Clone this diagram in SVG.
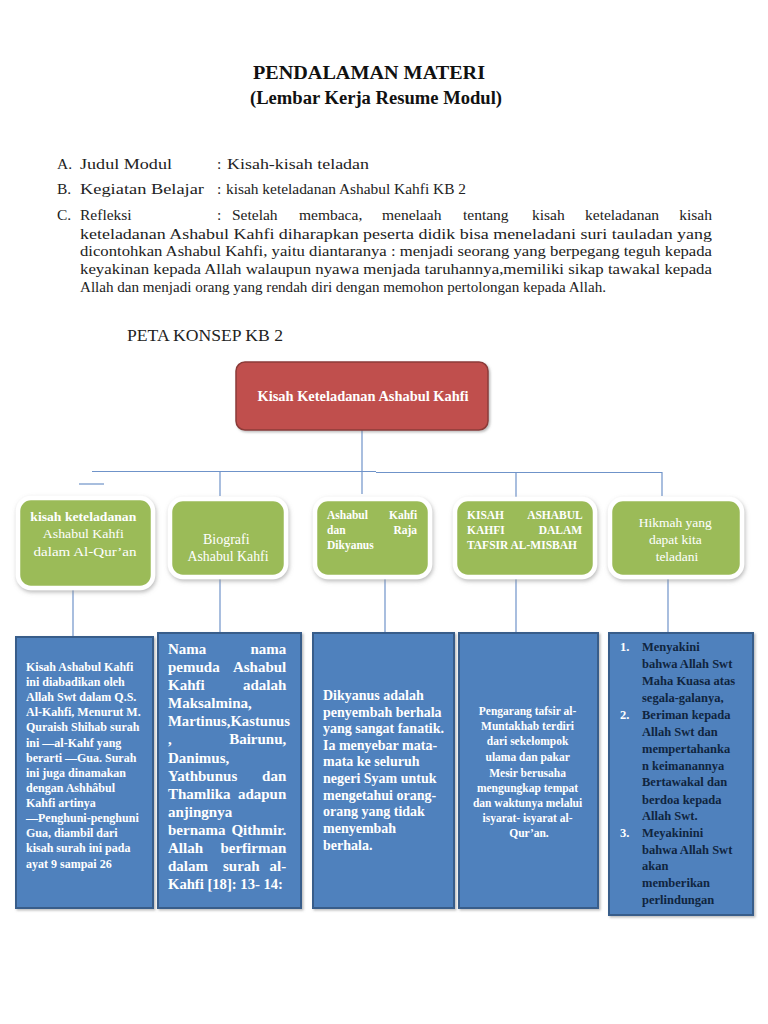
<svg xmlns="http://www.w3.org/2000/svg" width="768" height="1024" viewBox="0 0 768 1024">
<defs>
<filter id="sh" x="-20%" y="-20%" width="140%" height="140%">
<feDropShadow dx="1" dy="2" stdDeviation="2" flood-color="#8a8a8a" flood-opacity="0.6"/>
</filter>
<filter id="sh2" x="-10%" y="-10%" width="120%" height="120%">
<feDropShadow dx="1.5" dy="1.5" stdDeviation="1" flood-color="#777" flood-opacity="0.5"/>
</filter>
<style>
.hd{font-family:"Liberation Serif",serif;font-size:15.5px;fill:#222}
.ttl{font-family:"Liberation Serif",serif;font-size:18px;font-weight:bold;fill:#111}
.grn{fill:#9bbb59;stroke:#fff;stroke-width:4.5}
.blu{fill:#4f81bd;stroke:#385d8a;stroke-width:2}
.wt{font-family:"Liberation Serif",serif;fill:#fff}
.b{font-weight:bold}
.dk{font-family:"Liberation Serif",serif;fill:#10253f;font-weight:bold;font-size:12.5px}
.con{stroke:#6f93c9;stroke-width:1.2;fill:none}
</style>
</defs>
<rect width="768" height="1024" fill="#fff"/>

<g id="header">
<text class="ttl" x="369" y="79" text-anchor="middle" textLength="232" lengthAdjust="spacingAndGlyphs">PENDALAMAN MATERI</text>
<text class="ttl" x="376" y="104" text-anchor="middle" textLength="252" lengthAdjust="spacingAndGlyphs">(Lembar Kerja Resume Modul)</text>
<text class="hd" x="57" y="169">A.</text>
<text class="hd" x="80" y="169" textLength="92" lengthAdjust="spacingAndGlyphs">Judul Modul</text>
<text class="hd" x="217" y="169">:</text>
<text class="hd" x="227" y="169" textLength="142" lengthAdjust="spacingAndGlyphs">Kisah-kisah teladan</text>
<text class="hd" x="57" y="194">B.</text>
<text class="hd" x="80" y="194" textLength="124" lengthAdjust="spacingAndGlyphs">Kegiatan Belajar</text>
<text class="hd" x="217" y="194">:</text>
<text class="hd" x="226" y="194" textLength="240" lengthAdjust="spacingAndGlyphs">kisah keteladanan Ashabul Kahfi KB 2</text>
<text class="hd" x="57" y="220">C.</text>
<text class="hd" x="80" y="220">Refleksi</text>
<text class="hd" x="217" y="220">:</text>
<text class="hd" y="220"><tspan x="232">Setelah</tspan><tspan x="299">membaca,</tspan><tspan x="382">menelaah</tspan><tspan x="463">tentang</tspan><tspan x="532">kisah</tspan><tspan x="585">keteladanan</tspan></text>
<text class="hd" x="712" y="220" text-anchor="end">kisah</text>
<text class="hd" x="80" y="239" textLength="632" lengthAdjust="spacingAndGlyphs">keteladanan Ashabul Kahfi diharapkan peserta didik bisa meneladani suri tauladan yang</text>
<text class="hd" x="80" y="256" textLength="632" lengthAdjust="spacingAndGlyphs">dicontohkan Ashabul Kahfi, yaitu diantaranya : menjadi seorang yang berpegang teguh kepada</text>
<text class="hd" x="80" y="274" textLength="632" lengthAdjust="spacingAndGlyphs">keyakinan kepada Allah walaupun nyawa menjada taruhannya,memiliki sikap tawakal kepada</text>
<text class="hd" x="80" y="292" textLength="526" lengthAdjust="spacingAndGlyphs">Allah dan menjadi orang yang rendah diri dengan memohon pertolongan kepada Allah.</text>
<text class="hd" x="127" y="341" style="font-size:16px" textLength="156" lengthAdjust="spacingAndGlyphs">PETA KONSEP KB 2</text>
</g>

<g id="connectors">
<line class="con" x1="362" y1="430" x2="362" y2="494"/>
<line class="con" x1="92" y1="471.5" x2="376" y2="471.5"/>
<line class="con" x1="376" y1="472.5" x2="662" y2="472.5"/>
<line class="con" x1="79" y1="484" x2="104" y2="484"/>
<line class="con" x1="220" y1="472" x2="220" y2="496"/>
<line class="con" x1="516" y1="472" x2="516" y2="497"/>
<line class="con" x1="662" y1="472" x2="662" y2="496"/>
<line class="con" x1="73" y1="590" x2="73" y2="637"/>
<line class="con" x1="220" y1="579" x2="220" y2="633"/>
<line class="con" x1="385" y1="579" x2="385" y2="633"/>
<line class="con" x1="516" y1="579" x2="516" y2="633"/>
<line class="con" x1="668" y1="579" x2="668" y2="633"/>
</g>

<g id="root">
<rect x="236" y="362" width="252" height="68" rx="9" fill="#c0504d" stroke="#8c3a38" stroke-width="1.5" filter="url(#sh2)"/>
<text class="wt b" x="363" y="401" text-anchor="middle" font-size="14" textLength="211" lengthAdjust="spacingAndGlyphs">Kisah Keteladanan Ashabul Kahfi</text>
</g>

<g id="g1">
<rect class="grn" x="18" y="498" width="135" height="90" rx="13" filter="url(#sh)"/>
<text class="wt" text-anchor="middle" font-size="13.5">
<tspan x="85" y="521" font-weight="bold" textLength="106" lengthAdjust="spacingAndGlyphs">kisah keteladanan</tspan>
<tspan x="85" y="538" textLength="81" lengthAdjust="spacingAndGlyphs">Ashabul Kahfi</tspan>
<tspan x="85" y="556" textLength="103" lengthAdjust="spacingAndGlyphs">dalam Al-Qur’an</tspan>
</text>
</g>

<g id="g2">
<rect class="grn" x="170" y="499" width="116" height="78" rx="13" filter="url(#sh)"/>
<text class="wt" text-anchor="middle" font-size="14">
<tspan x="228" y="544">Biografi</tspan>
<tspan x="228" y="561" textLength="81" lengthAdjust="spacingAndGlyphs">Ashabul Kahfi</tspan>
</text>
</g>

<g id="g3">
<rect class="grn" x="315" y="499" width="115" height="78" rx="13" filter="url(#sh)"/>
<text class="wt b" font-size="11.5">
<tspan x="327" y="519">Ashabul</tspan><tspan x="420" y="519" text-anchor="end">Kahfi</tspan>
<tspan x="327" y="534">dan</tspan><tspan x="420" y="534" text-anchor="end">Raja</tspan>
<tspan x="327" y="549">Dikyanus</tspan>
</text>
</g>

<g id="g4">
<rect class="grn" x="455" y="499" width="140" height="78" rx="13" filter="url(#sh)"/>
<text class="wt b" font-size="11.5">
<tspan x="467" y="519">KISAH</tspan><tspan x="585" y="519" text-anchor="end">ASHABUL</tspan>
<tspan x="467" y="534">KAHFI</tspan><tspan x="585" y="534" text-anchor="end">DALAM</tspan>
<tspan x="467" y="549" textLength="110" lengthAdjust="spacingAndGlyphs">TAFSIR AL-MISBAH</tspan>
</text>
</g>

<g id="g5">
<rect class="grn" x="610" y="499" width="132" height="78" rx="13" filter="url(#sh)"/>
<text class="wt" text-anchor="middle" font-size="13.5">
<tspan x="677" y="527">Hikmah yang</tspan>
<tspan x="677" y="544">dapat kita</tspan>
<tspan x="677" y="561">teladani</tspan>
</text>
</g>

<g id="b1">
<rect class="blu" x="16" y="637" width="137" height="271" filter="url(#sh2)"/>
<text class="wt b" font-size="12">
<tspan x="26" y="671">Kisah Ashabul Kahfi</tspan>
<tspan x="26" y="686">ini diabadikan oleh</tspan>
<tspan x="26" y="701">Allah Swt dalam Q.S.</tspan>
<tspan x="26" y="716">Al-Kahfi, Menurut M.</tspan>
<tspan x="26" y="731">Quraish Shihab surah</tspan>
<tspan x="26" y="747">ini —al-Kahf yang</tspan>
<tspan x="26" y="762">berarti —Gua. Surah</tspan>
<tspan x="26" y="777">ini juga dinamakan</tspan>
<tspan x="26" y="792">dengan Ashhâbul</tspan>
<tspan x="26" y="807">Kahfi artinya</tspan>
<tspan x="26" y="822">—Penghuni-penghuni</tspan>
<tspan x="26" y="837">Gua, diambil dari</tspan>
<tspan x="26" y="852">kisah surah ini pada</tspan>
<tspan x="26" y="868">ayat 9 sampai 26</tspan>
</text>
</g>

<g id="b2">
<rect class="blu" x="158" y="633" width="143" height="275" filter="url(#sh2)"/>
<text class="wt b" font-size="15">
<tspan x="168" y="654">Nama</tspan><tspan x="290" y="654" text-anchor="end">nama</tspan>
<tspan x="168" y="672">pemuda</tspan><tspan x="290" y="672" text-anchor="end">Ashabul</tspan>
<tspan x="168" y="690">Kahfi</tspan><tspan x="290" y="690" text-anchor="end">adalah</tspan>
<tspan x="168" y="708">Maksalmina,</tspan>
<tspan x="168" y="726" textLength="122" lengthAdjust="spacingAndGlyphs">Martinus,Kastunus</tspan>
<tspan x="168" y="744">,</tspan><tspan x="290" y="744" text-anchor="end">Bairunu,</tspan>
<tspan x="168" y="763">Danimus,</tspan>
<tspan x="168" y="781">Yathbunus</tspan><tspan x="290" y="781" text-anchor="end">dan</tspan>
<tspan x="168" y="799">Thamlika</tspan><tspan x="290" y="799" text-anchor="end">adapun</tspan>
<tspan x="168" y="817">anjingnya</tspan>
<tspan x="168" y="835">bernama</tspan><tspan x="290" y="835" text-anchor="end">Qithmir.</tspan>
<tspan x="168" y="853">Allah</tspan><tspan x="290" y="853" text-anchor="end">berfirman</tspan>
<tspan x="168" y="871">dalam</tspan><tspan x="223" y="871">surah</tspan><tspan x="290" y="871" text-anchor="end">al-</tspan>
<tspan x="168" y="889" textLength="115" lengthAdjust="spacingAndGlyphs">Kahfi [18]: 13- 14:</tspan>
</text>
</g>

<g id="b3">
<rect class="blu" x="313" y="633" width="141" height="275" filter="url(#sh2)"/>
<text class="wt b" font-size="14">
<tspan x="323" y="700">Dikyanus adalah</tspan>
<tspan x="323" y="717">penyembah berhala</tspan>
<tspan x="323" y="733">yang sangat fanatik.</tspan>
<tspan x="323" y="750">Ia menyebar mata-</tspan>
<tspan x="323" y="766">mata ke seluruh</tspan>
<tspan x="323" y="783">negeri Syam untuk</tspan>
<tspan x="323" y="800">mengetahui orang-</tspan>
<tspan x="323" y="816">orang yang tidak</tspan>
<tspan x="323" y="833">menyembah</tspan>
<tspan x="323" y="850">berhala.</tspan>
</text>
</g>

<g id="b4">
<rect class="blu" x="459" y="633" width="139" height="275" filter="url(#sh2)"/>
<text class="wt b" font-size="11.5" text-anchor="middle">
<tspan x="529" y="715">Pengarang tafsir al-</tspan>
<tspan x="529" y="730">Muntakhab terdiri</tspan>
<tspan x="529" y="745">dari sekelompok</tspan>
<tspan x="529" y="761">ulama dan pakar</tspan>
<tspan x="529" y="777">Mesir berusaha</tspan>
<tspan x="529" y="792">mengungkap tempat</tspan>
<tspan x="529" y="807">dan waktunya melalui</tspan>
<tspan x="529" y="822">isyarat- isyarat al-</tspan>
<tspan x="529" y="837">Qur’an.</tspan>
</text>
</g>

<g id="b5">
<rect class="blu" x="609" y="633" width="144" height="282" filter="url(#sh2)"/>
<text class="wt b" font-size="12.5">
<tspan x="620" y="651">1.</tspan>
<tspan x="620" y="719">2.</tspan>
<tspan x="620" y="837">3.</tspan>
</text>
<text class="dk">
<tspan x="642" y="651">Menyakini</tspan>
<tspan x="642" y="668">bahwa Allah Swt</tspan>
<tspan x="642" y="685">Maha Kuasa atas</tspan>
<tspan x="642" y="702">segala-galanya,</tspan>
<tspan x="642" y="719">Beriman kepada</tspan>
<tspan x="642" y="736">Allah Swt dan</tspan>
<tspan x="642" y="753">mempertahanka</tspan>
<tspan x="642" y="770">n keimanannya</tspan>
<tspan x="642" y="786">Bertawakal dan</tspan>
<tspan x="642" y="804">berdoa kepada</tspan>
<tspan x="642" y="820">Allah Swt.</tspan>
<tspan x="642" y="837">Meyakinini</tspan>
<tspan x="642" y="854">bahwa Allah Swt</tspan>
<tspan x="642" y="870">akan</tspan>
<tspan x="642" y="887">memberikan</tspan>
<tspan x="642" y="904">perlindungan</tspan>
</text>
</g>
</svg>
